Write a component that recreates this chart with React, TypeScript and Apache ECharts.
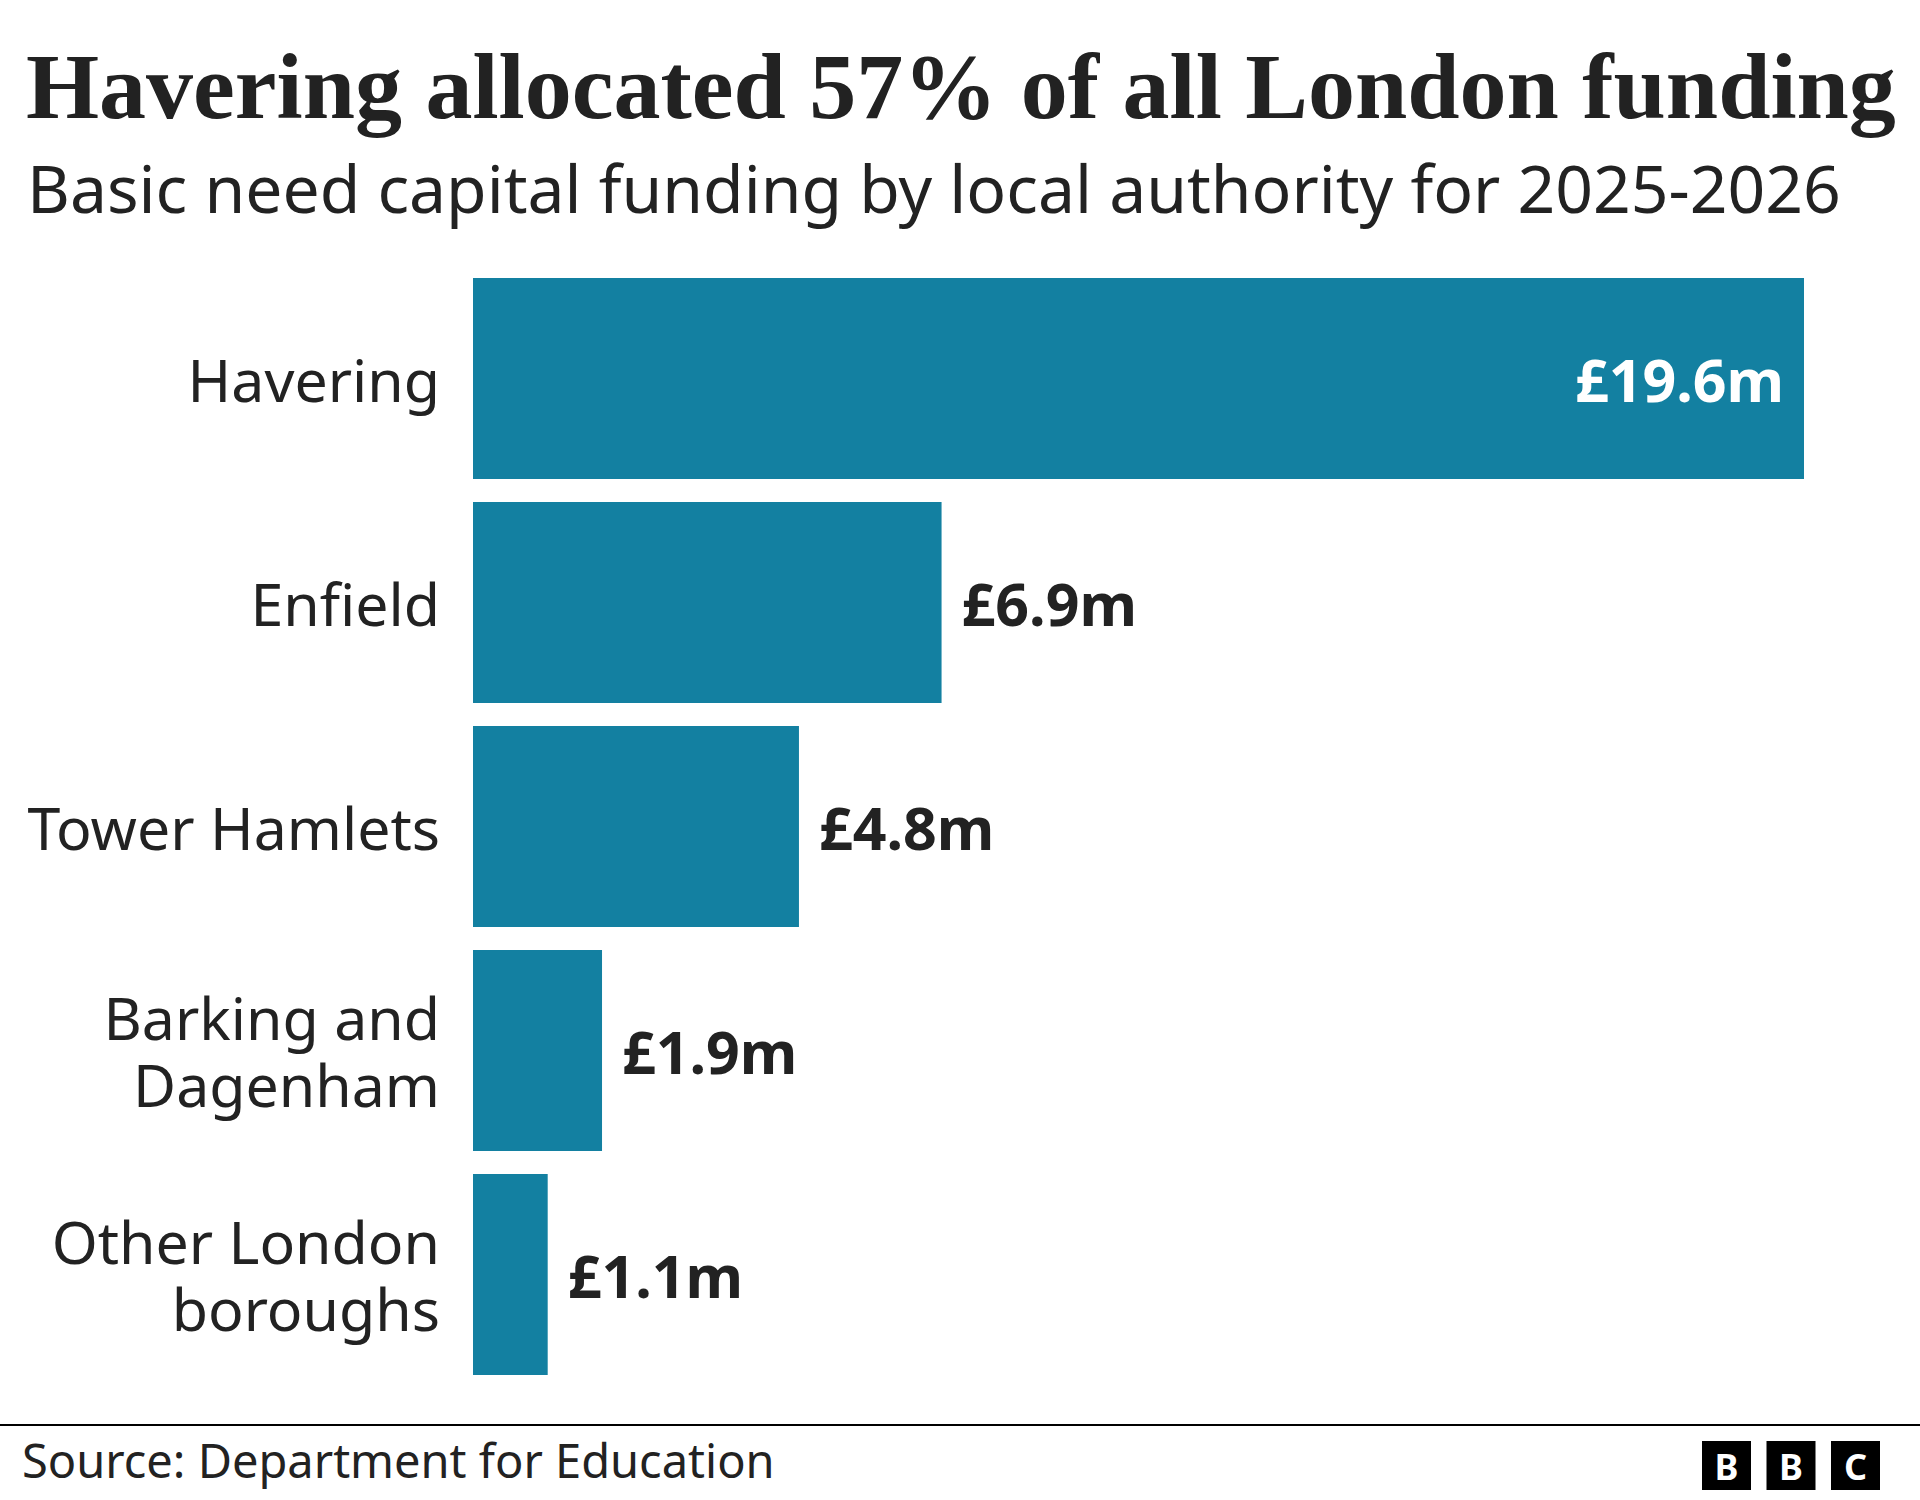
import React, { useEffect, useRef } from "react";
import * as echarts from "echarts";

const categories = ["Havering", "Enfield", "Tower Hamlets", "Barking and\nDagenham", "Other London\nboroughs"];
const values = [19.6, 6.9, 4.8, 1.9, 1.1];
const valueLabels = ["£19.6m", "£6.9m", "£4.8m", "£1.9m", "£1.1m"];

const TITLE = "Havering allocated 57% of all London funding";
const SUBTITLE = "Basic need capital funding by local authority for 2025-2026";
const SOURCE = "Source: Department for Education";

const BAR = "#1380A1";
const TEXT = "#222222";
const SANS = "'Noto Sans', sans-serif";

export default function App() {
  const ref = useRef<HTMLDivElement>(null);
  useEffect(() => {
    document.body.style.margin = "0";
    const chart = echarts.init(ref.current!, null, { renderer: "svg" });
    const data = values.map((v, i) => ({
      value: v,
      label:
        i === 0
          ? { position: "insideRight", color: "#ffffff", distance: 20 }
          : { position: "right", color: TEXT, distance: 20 },
    }));
    chart.setOption({
      animation: false,
      backgroundColor: "#ffffff",
      grid: { left: 473, right: 116, top: 266.5, height: 1120, containLabel: false },
      xAxis: {
        type: "value",
        min: 0,
        max: 19.6,
        show: false,
      },
      yAxis: {
        type: "category",
        data: categories,
        inverse: true,
        axisLine: { show: false },
        axisTick: { show: false },
        splitLine: { show: false },
        axisLabel: {
          color: TEXT,
          fontFamily: SANS,
          fontSize: 59,
          lineHeight: 67,
          margin: 33,
          align: "right",
        },
      },
      series: [
        {
          type: "bar",
          data,
          barCategoryGap: "10.3%",
          itemStyle: { color: BAR },
          label: {
            show: true,
            fontFamily: SANS,
            fontWeight: "bold",
            fontSize: 59,
            formatter: (p: any) => valueLabels[p.dataIndex],
          },
        },
      ],
      graphic: [
        {
          type: "text",
          left: 26,
          top: 39,
          style: {
            text: TITLE,
            font: "bold 94px 'Liberation Serif', serif",
            fill: TEXT,
          },
        },
        {
          type: "text",
          left: 27,
          top: 154,
          style: {
            text: SUBTITLE,
            font: "66px 'Noto Sans', sans-serif",
            fill: TEXT,
          },
        },
        {
          type: "rect",
          shape: { x: 0, y: 1424, width: 1920, height: 2 },
          style: { fill: "#000000" },
        },
        {
          type: "text",
          left: 22,
          top: 1436,
          style: {
            text: SOURCE,
            font: "47px 'Noto Sans', sans-serif",
            fill: TEXT,
          },
        },
        ...["B", "B", "C"].flatMap((ch, i) => [
          {
            type: "rect",
            shape: { x: 1702 + i * 64.5, y: 1441, width: 49, height: 49 },
            style: { fill: "#000000" },
          },
          {
            type: "text",
            x: 1702 + i * 64.5 + 24.5,
            y: 1466,
            style: {
              text: ch,
              font: "bold 36px 'Noto Sans', sans-serif",
              fill: "#ffffff",
              align: "center",
              verticalAlign: "middle",
            },
          },
        ]),
      ],
    });
    return () => chart.dispose();
  }, []);
  return <div ref={ref} style={{ width: 1920, height: 1500 }} />;
}
